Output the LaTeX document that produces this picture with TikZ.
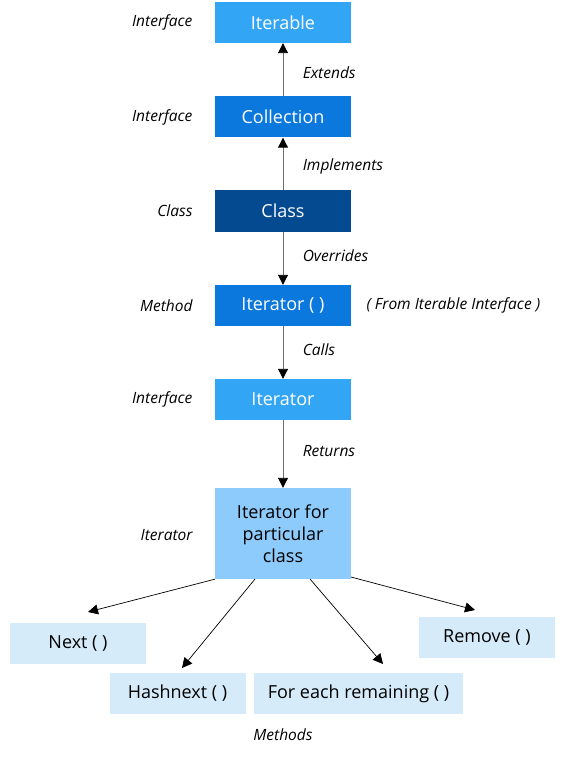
\documentclass[tikz,border=0pt]{standalone}
\usepackage{fontspec}
\setmainfont{Open Sans}
\definecolor{lightblue}{HTML}{33A5F5}
\definecolor{midblue}{HTML}{0A78DC}
\definecolor{darkblue}{HTML}{034A91}
\definecolor{paleblue}{HTML}{8CCBFB}
\definecolor{methodblue}{HTML}{D6EBF9}
\definecolor{linegray}{HTML}{6E6E6E}
\tikzset{
  box/.style={minimum width=136pt, minimum height=41pt, inner sep=2pt,
    font=\fontsize{18}{22}\selectfont},
  mbox/.style={box, fill=methodblue, text=black, minimum height=41pt},
  side/.style={font=\fontsize{15.5}{18}\selectfont\itshape},
  link/.style={draw=linegray, line width=0.9pt, -{Triangle[length=10pt,width=10pt,color=black]}},
}
\usetikzlibrary{arrows.meta}
\begin{document}
\begin{tikzpicture}[x=1pt,y=-1pt]
    \useasboundingbox (0,0) rectangle (574,759);
    % main chain
    \node [box,fill=lightblue,text=white] (iterable) at (283,22.5) {Iterable};
    \node [box,fill=midblue,text=white] (coll) at (283,117) {Collection};
    \node [box,fill=darkblue,text=white] (cls) at (283,211) {Class};
    \node [box,fill=midblue,text=white] (itfun) at (283,305.5) {Iterator ( )};
    \node [box,fill=lightblue,text=white] (iter) at (283,399.5) {Iterator};
    \node [box,fill=paleblue,text=black,minimum height=91pt,align=center] (part) at (283,533.5)
      {Iterator for\\particular\\class};
    % methods
    \node [mbox] (next) at (78,643) {Next ( )};
    \node [mbox] (hnext) at (177.5,693.5) {Hashnext ( )};
    \node [mbox,minimum width=209pt] (each) at (358.5,693.5) {For each remaining ( )};
    \node [mbox] (remove) at (487,637.5) {Remove ( )};
    % side labels
    \node [side,anchor=east] (l1) at (196,22.5) {Interface};
    \node [side,anchor=east] (l2) at (196,117) {Interface};
    \node [side,anchor=east] (l3) at (196,211) {Class};
    \node [side,anchor=east] (l4) at (196,305.5) {Method};
    \node [side,anchor=east] (l5) at (196,399.5) {Interface};
    \node [side,anchor=east] (l6) at (196,535) {Iterator};
    \node [side,anchor=west] (from) at (363,305.5) {( From Iterable Interface )};
    \node [side] (meth) at (283,735) {Methods};
    % arrows
    \draw [link] (coll) -- node [side,right,pos=0.45,xshift=16pt] {Extends} (iterable);
    \draw [link] (cls) -- node [side,right,pos=0.45,xshift=16pt] {Implements} (coll);
    \draw [link] (cls) -- node [side,right,pos=0.45,xshift=16pt] {Overrides} (itfun);
    \draw [link] (itfun) -- node [side,right,pos=0.45,xshift=16pt] {Calls} (iter);
    \draw [link] (iter) -- node [side,right,pos=0.45,xshift=16pt] {Returns} (part);
    \draw [link,draw=black,line width=0.7pt] (part.south west) -- (88,612);
    \draw [link,draw=black,line width=0.7pt] (255,579) -- (182,668);
    \draw [link,draw=black,line width=0.7pt] (310,579) -- (383,664);
    \draw [link,draw=black,line width=0.7pt] (351,577) -- (475,610);
\end{tikzpicture}
\end{document}
